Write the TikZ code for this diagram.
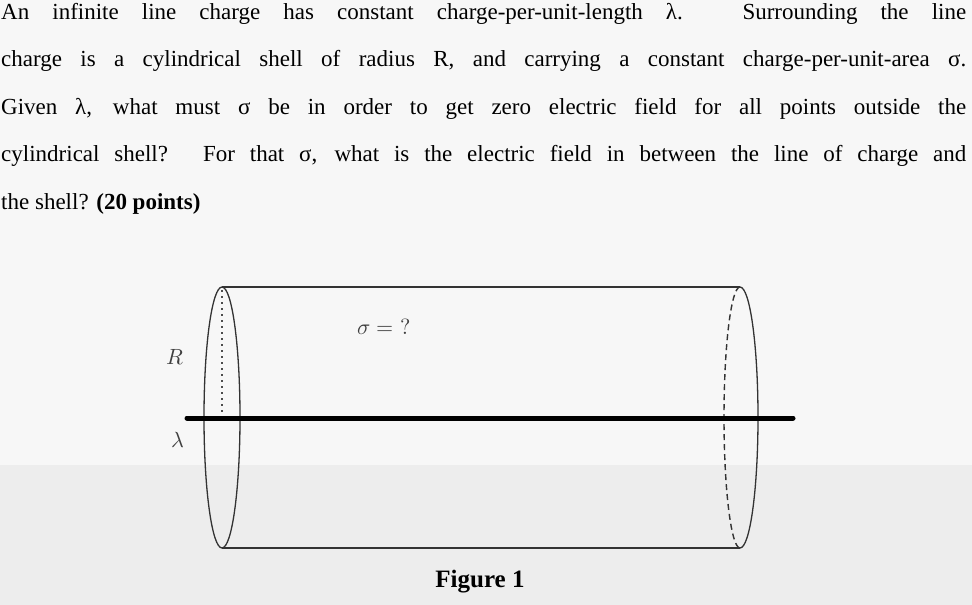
\documentclass[tikz,border=0pt]{standalone}
\usepackage{fontspec}
\setmainfont{Liberation Serif}
\usepackage{unicode-math}
\begin{document}
\begin{tikzpicture}[x=1pt,y=-1pt,
  shell/.style={draw=black!80,line width=1.3pt},
  lbl/.style={inner sep=0pt,font=\fontsize{22}{22}\selectfont}]
\useasboundingbox (0,0) rectangle (972,605);
\fill[black!3] (0,0) rectangle (972,465);
\fill[black!7] (0,465) rectangle (972,605);
\node[anchor=north west,inner sep=0pt,text width=965pt,align=justify,
  font=\fontsize{23}{47.5}\selectfont] (txt) at (1,3)
{An infinite line charge has constant charge-per-unit-length λ. Surrounding the line\linebreak charge is a cylindrical shell of radius R, and carrying a constant charge-per-unit-area σ.\linebreak Given λ, what must σ be in order to get zero electric field for all points outside the\linebreak cylindrical shell? For that σ, what is the electric field in between the line of charge and\linebreak the shell? \textbf{(20 points)}};
% cylinder
\coordinate (tl) at (222,287);
\coordinate (bl) at (222,548);
\coordinate (tr) at (740,287);
\coordinate (br) at (740,548);
\draw[shell] (tl) -- (tr) (bl) -- (br);
\draw[shell] (222,417.5) ellipse [x radius=18, y radius=130.5];
\draw[shell] (tr) arc[start angle=-90,end angle=90,x radius=18,y radius=130.5];
\draw[black!80,line width=1.4pt,dash pattern=on 6pt off 4pt] (tr) arc[start angle=-90,end angle=-270,x radius=16,y radius=130.5];
\draw[black!70,line width=1.6pt,dash pattern=on 1.5pt off 4.5pt] (222,290) -- (222,412);
\coordinate (la) at (187,418);
\coordinate (lb) at (793,418);
\draw[line width=5pt,line cap=round] (la) -- (lb);
\node[lbl,text=black!75] (r) at (175,357) {$R$};
\node[lbl,text=black!75] (lam) at (178,440) {$\lambda$};
\node[lbl,text=black!75] (sig) at (384,327) {$\sigma = ?$};
\node[inner sep=0pt,font=\fontsize{25}{25}\selectfont\bfseries] (fig) at (480,582) {Figure 1};
\end{tikzpicture}
\end{document}
